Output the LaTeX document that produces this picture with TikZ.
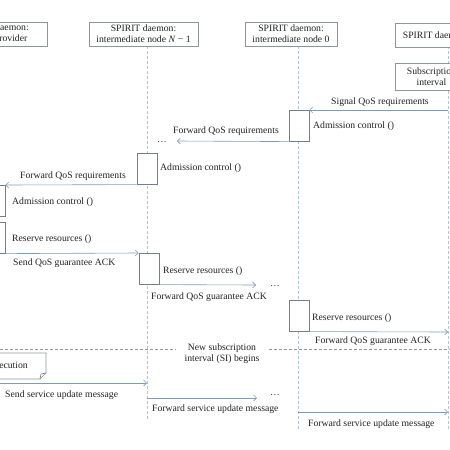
\documentclass[tikz,border=0pt]{standalone}
\usepackage{fontspec}
\setmainfont{Liberation Serif}
\usetikzlibrary{arrows.meta}

\definecolor{lifeblue}{HTML}{AFC3D6}
\definecolor{msgblue}{HTML}{7D9CB9}
\definecolor{boxgray}{HTML}{8E959B}
\definecolor{actgray}{HTML}{717E8B}
\definecolor{sepgray}{HTML}{8F98A1}
\definecolor{inkgray}{HTML}{222222}

\begin{document}
\begin{tikzpicture}[x=1pt, y=-1pt,
  font=\fontsize{9.7}{11}\selectfont, text=inkgray,
  header/.style={draw=boxgray, fill=white, line width=0.6pt, align=center,
    minimum height=24pt, inner sep=0pt},
  activation/.style={draw=actgray, fill=white, line width=0.6pt, anchor=north,
    minimum width=20pt, minimum height=31pt, inner sep=0pt},
  lifeline/.style={draw=lifeblue, line width=0.9pt, dash pattern=on 3pt off 2pt},
  message/.style={draw=msgblue, line width=0.6pt,
    -{Straight Barb[length=3pt,width=6pt]}},
  separator/.style={draw=sepgray, line width=0.6pt, dash pattern=on 3pt off 2pt},
  txt/.style={inner sep=0pt, anchor=base west},
  gap/.style={inner sep=0pt, anchor=base}]

\useasboundingbox (0,0) rectangle (450,450);
\clip (0,0) rectangle (450,450);

% lifelines
\coordinate (lifeP) at (-5,46);
\coordinate (lifeNm) at (147,46);
\coordinate (life0) at (298,46);
\coordinate (lifeS) at (448,46);
\draw[lifeline] (lifeP) -- (-5,420);
\draw[lifeline] (lifeNm) -- (147,420);
\draw[lifeline] (life0) -- (298,430);
\draw[lifeline] (lifeS) -- (448,430);

% daemons
\node[header, minimum width=102pt] (provider) at (-4,34) {SPIRIT daemon:\\service provider};
\node[header, minimum width=109pt] (nodeNm) at (143.5,34) {SPIRIT daemon:\\intermediate node \textit{N} − 1};
\node[header, minimum width=92pt] (node0) at (291,34) {SPIRIT daemon:\\intermediate node 0};
\node[header, minimum width=106pt] (client) at (448,35) {SPIRIT daemon: client};
\node[header, minimum width=73pt, minimum height=27pt] (interval) at (431.5,76.5) {Subscription\\interval};

% admission
\node[activation] (adm0) at (299,110) {};
\node[activation] (admNm) at (147,153) {};
\node[activation] (admP) at (-5,185) {};

\coordinate (sig) at (448,110);
\draw[message] (sig) -- (adm0.north east);
\node[txt] at (331,104) {Signal QoS requirements};
\node[txt] at (313,128) {Admission control ()};

\coordinate (fwdq) at (177,141);
\draw[message] (adm0.south west) -- (fwdq);
\node[txt] at (173,133) {Forward QoS requirements};
\node[gap] at (162,142) {…};

\node[txt] at (160,170.5) {Admission control ()};
\draw[message] (admNm.south west) -- (admP.north east);
\node[txt] at (20,178) {Forward QoS requirements};
\node[txt] at (12,204) {Admission control ()};

% reservation
\node[activation] (resP) at (-5,222) {};
\node[activation] (resNm) at (149,253) {};
\node[activation] (res0) at (299,300) {};

\node[txt] at (12,241) {Reserve resources ()};
\draw[message] (resP.south east) -- (resNm.north west);
\node[txt] at (13,265) {Send QoS guarantee ACK};
\node[txt] at (163,273) {Reserve resources ()};

\coordinate (ack) at (256,285);
\draw[message] (resNm.south east) -- (ack);
\node[gap] at (275,286) {…};
\node[txt] at (151,299.5) {Forward QoS guarantee ACK};
\node[txt] at (312,320) {Reserve resources ()};

\coordinate (ackS) at (448,332);
\draw[message] (res0.south east) -- (ackS);
\node[txt] at (315,343) {Forward QoS guarantee ACK};

% new interval
\coordinate (sepL) at (0,349);
\coordinate (sepR) at (450,349);
\node[align=center, inner xsep=9pt, inner ysep=0pt] (newsi) at (222,354) {New subscription\\interval (SI) begins};
\draw[separator] (sepL) -- (newsi.west |- sepL);
\draw[separator] (newsi.east |- sepL) -- (sepR);

\draw[draw=boxgray, fill=white, line width=0.6pt] (-60,353) -- (46,353) -- (46,373) -- (40,379) -- (-60,379) -- cycle;
\draw[draw=actgray, line width=0.6pt] (40,379) -- (41,374) -- (46,373);
\node[inner sep=0pt, anchor=base east] (exec) at (28,368) {Execution};

% service update
\coordinate (updP) at (-5,383);
\coordinate (updNm) at (147,383);
\draw[message] (updP) -- (updNm);
\node[txt] at (5,397) {Send service update message};

\coordinate (fwdNm) at (147,398);
\coordinate (fwdEnd) at (257,398);
\draw[message] (fwdNm) -- (fwdEnd);
\node[gap] at (275,395) {…};
\node[txt] at (152,411.5) {Forward service update message};

\coordinate (fwd0) at (298,412);
\coordinate (fwdS) at (448,412);
\draw[message] (fwd0) -- (fwdS);
\node[txt] at (308,426.5) {Forward service update message};
\end{tikzpicture}
\end{document}
